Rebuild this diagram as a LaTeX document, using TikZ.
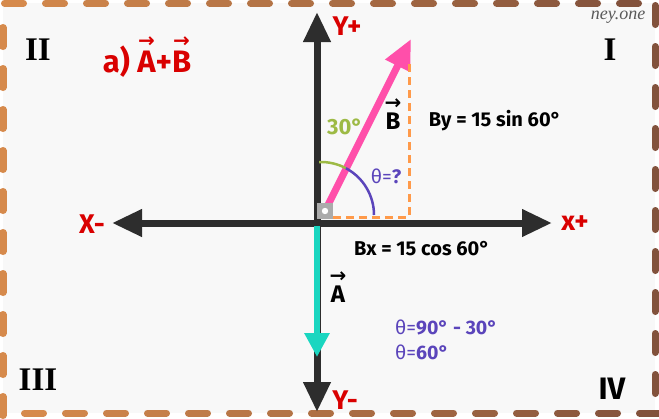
\documentclass[tikz,border=0pt]{standalone}
\usepackage{fontspec}
\setmainfont{Fira Sans}
\newfontfamily\slab{Liberation Serif}
\newfontfamily\arrowfont{DejaVu Sans}
\usetikzlibrary{arrows.meta}
\definecolor{bgpaper}{HTML}{F8F8F8}
\definecolor{frameorange}{HTML}{D68A4C}
\definecolor{framebrown}{HTML}{82523C}
\definecolor{axisgray}{HTML}{2D2D2D}
\definecolor{axisred}{HTML}{D90000}
\definecolor{vecbpink}{HTML}{FF4FAA}
\definecolor{vecacyan}{HTML}{1AD6C0}
\definecolor{comporange}{HTML}{FF9A4A}
\definecolor{arcgreen}{HTML}{9DBA45}
\definecolor{thetapurple}{HTML}{5B45BB}
\definecolor{squaregray}{HTML}{ABABAB}
\tikzset{
  frame/.style={line width=7pt, line cap=round},
  axis/.style={line width=7pt, draw=axisgray, {Triangle[length=30pt,width=26pt]}-{Triangle[length=30pt,width=26pt]}},
  vecA/.style={line width=6pt, draw=vecacyan, -{Triangle[length=24pt,width=24pt]}},
  vecB/.style={line width=7pt, draw=vecbpink, -{Triangle[length=30pt,width=26pt]}},
  comp/.style={line width=3pt, draw=comporange, dash pattern=on 8pt off 5pt},
  anglearc/.style={line width=2.5pt},
  origbox/.style={fill=squaregray, minimum size=16pt, inner sep=0pt},
  axislbl/.style={font=\bfseries\fontsize{27}{29}\selectfont, text=axisred, inner sep=0pt},
  quadlbl/.style={font=\slab\bfseries\fontsize{33}{35}\selectfont, inner sep=0pt},
  formula/.style={font=\bfseries\fontsize{20}{22}\selectfont, inner sep=0pt},
  thetalbl/.style={font=\fontsize{19.5}{21}\selectfont, text=thetapurple, inner sep=0pt},
}
% letter with a small arrow set above it
\newcommand\arrowed[1]{\ooalign{#1\cr\hidewidth\raisebox{0.8em}{\arrowfont\fontsize{20}{20}\selectfont →}\hidewidth\cr}}

\begin{document}
\begin{tikzpicture}[x=1pt,y=-1pt]
		%%%%% FRAME %%%%%
		\useasboundingbox (0,0) rectangle (659,418);
		\fill[bgpaper] (3,3) rectangle (655,413);
		\foreach \i in {0,...,15}{
			\pgfmathtruncatemacro\p{100-100*\i/15}
			\draw[frame, color=frameorange!\p!framebrown] ({14+41*\i-9.5},3) -- ({14+41*\i+9.5},3);
			\draw[frame, color=frameorange!\p!framebrown] ({34+41*\i-9.5},413) -- ({34+41*\i+9.5},413);
		}
		\foreach \i in {0,...,9}{
			\draw[frame, color=frameorange] (3,{37+41*\i-9.5}) -- (3,{37+41*\i+9.5});
			\draw[frame, color=framebrown] (655,{15+41*\i-9.5}) -- (655,{15+41*\i+9.5});
		}
		
		%%%%% AXES %%%%%
		\coordinate (ytop) at (317,12);
		\coordinate (ybot) at (317,412);
		\coordinate (xleft) at (112,223);
		\coordinate (xright) at (552,223);
		\draw[axis] (ybot) -- (ytop);
		\draw[axis] (xleft) -- (xright);
		
		%%%%% VECTORS %%%%%
		\coordinate (atail) at (317,226);
		\coordinate (atip) at (317,357);
		\coordinate (btail) at (325,211);
		\coordinate (btip) at (411,39);
		\coordinate (bytop) at (409,64);
		\coordinate (bcorner) at (409,217);
		\coordinate (bxstart) at (333,217);
		\draw[vecA] (atail) -- (atip);
		\draw[vecB] (btail) -- (btip);
		\draw[comp] (bytop) -- (bcorner) -- (bxstart);
		
		\coordinate (arcc) at (321,215);
		\draw[anglearc, arcgreen] ([shift={(-92:53)}]arcc) arc[start angle=-92, end angle=-62, radius=53];
		\draw[anglearc, thetapurple] ([shift={(-62:53)}]arcc) arc[start angle=-62, end angle=0, radius=53];
		
		\node[origbox] (corner) at (btail) {};
		\fill[white] (corner.center) circle[radius=3.2pt];
		
		%%%%% LABELS %%%%%
		\node[axislbl] (yplus) at (347,26) {Y+};
		\node[axislbl] (yminus) at (345,400) {Y-};
		\node[axislbl] (xminus) at (92,224) {X-};
		\node[axislbl] (xplus) at (575,223) {x+};
		
		\node[quadlbl] (q1) at (610,50) {I};
		\node[quadlbl] (q2) at (38,50) {II};
		\node[quadlbl] (q3) at (38,380) {III};
		\node[quadlbl, font=\bfseries\fontsize{31}{33}\selectfont] (q4) at (612,389) {IV};
		
		\node[font=\slab\itshape\fontsize{18}{20}\selectfont, text=black!65, inner sep=0pt] (brand) at (618,17) {ney.one};
		\node[axislbl, font=\bfseries\fontsize{31}{33}\selectfont, anchor=base] (title) at (147,72) {a) \arrowed{A}+\arrowed{B}};
		
		\node[formula, text=arcgreen, font=\bfseries\fontsize{22}{24}\selectfont] (thirty) at (345,127) {30°};
		\node[formula, font=\bfseries\fontsize{24}{26}\selectfont, anchor=base] (bname) at (393,129) {\arrowed{B}};
		\node[formula, font=\bfseries\fontsize{24}{26}\selectfont, anchor=base] (aname) at (338,302) {\arrowed{A}};
		\node[formula] (by) at (495,121) {By = 15 sin 60°};
		\node[formula] (bx) at (422,249) {Bx = 15 cos 60°};
		\node[thetalbl] (theta) at (386,176) {θ=\textbf{?}};
		\node[thetalbl, anchor=west] (thcalc) at (395,327) {θ=\textbf{90° - 30°}};
		\node[thetalbl, anchor=west] (thres) at (395,352) {θ=\textbf{60°}};
	\end{tikzpicture}
\end{document}
